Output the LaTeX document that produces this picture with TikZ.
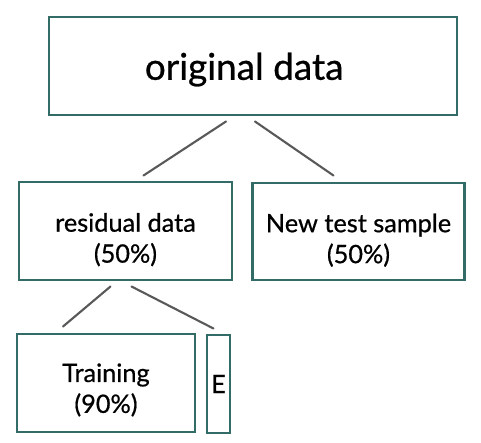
\documentclass[tikz,border=0pt]{standalone}
\usepackage{fontspec}
\setmainfont{Lato}[FakeBold=0.7]
\usepackage{tikz}
\usetikzlibrary{calc}
\definecolor{boxteal}{HTML}{336B66}
\newcommand{\lowstrut}[1]{\rule{0pt}{#1}}

\begin{document}
\begin{tikzpicture}[x=0.02cm, y=-0.02cm,
  every node/.style={draw=boxteal, line width=1.7pt, align=center, inner sep=0pt, font=\fontsize{14.4}{17.6}\selectfont},
  split/.style={draw=black!65, line width=1.2pt, line cap=round}]

\useasboundingbox (0,0) rectangle (481,443);

\node (orig)[minimum width=408*0.02cm, minimum height=98*0.02cm, font=\fontsize{21}{25}\selectfont] at (253,66) {\lowstrut{19.5pt}original data\hspace{10pt}};
\node (resid)[minimum width=213*0.02cm, minimum height=98*0.02cm] at (125.5,231) {\lowstrut{20.5pt}residual data\\(50\%)};
\node (newtest)[minimum width=212*0.02cm, minimum height=97*0.02cm] at (358.5,231.5) {\lowstrut{20.5pt}New test sample\\(50\%)};
\node (train)[minimum width=178*0.02cm, minimum height=98*0.02cm] at (106,383) {\lowstrut{18.5pt}Training\\(90\%)};
\node (E)[minimum width=23*0.02cm, minimum height=98*0.02cm] at (218.5,384) {E};

% splits
\draw[split] ($(orig.south)+(-27,5)$) -- ($(resid.north)+(18,-5)$);
\draw[split] ($(orig.south)+(2,5)$) -- ($(newtest.north)+(-25,-6)$);
\draw[split] ($(resid.south)+(-15,5)$) -- ($(train.north)+(-43,-6)$);
\draw[split] ($(resid.south)+(6,5)$) -- ($(E.north)+(-5,-5)$);
\end{tikzpicture}
\end{document}
